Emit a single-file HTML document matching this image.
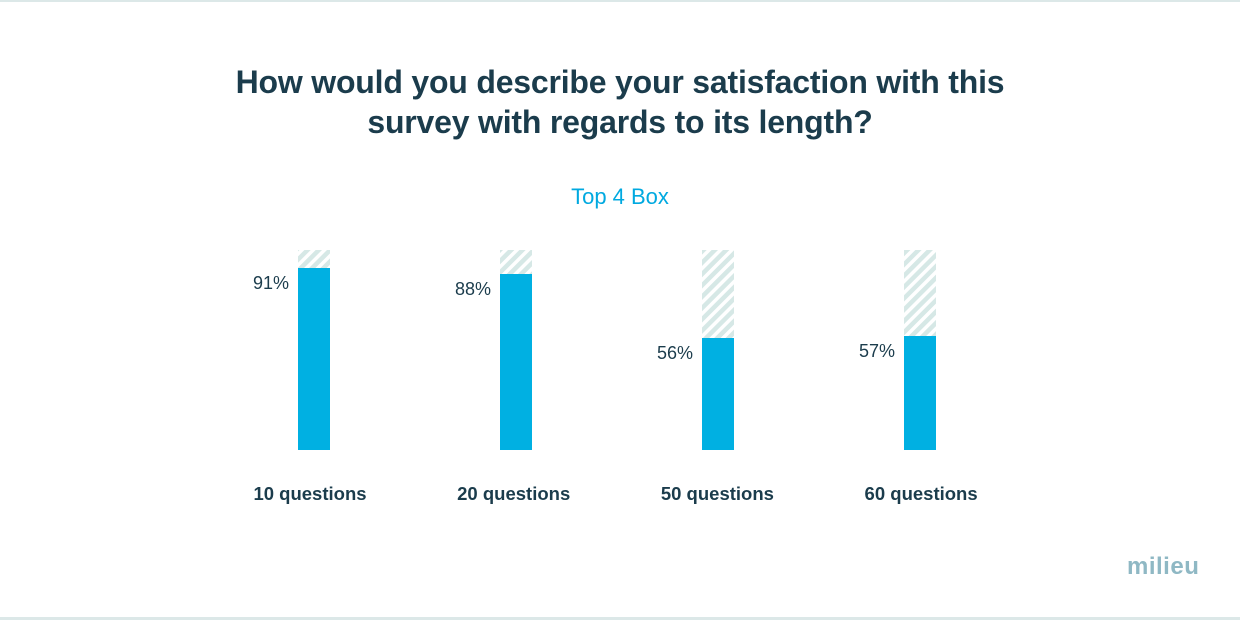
<!DOCTYPE html>
<html><head><meta charset="utf-8">
<style>
html,body{margin:0;padding:0;background:#fff;}
body{width:1240px;height:620px;position:relative;overflow:hidden;font-family:"Liberation Sans",sans-serif;}
</style></head>
<body>
<div style="position:absolute;left:0;top:0;width:1240px;height:2px;background:#dce8e8"></div>
<div style="position:absolute;left:0;top:617px;width:1240px;height:3px;background:#dce8e8"></div>
<div style="position:absolute;left:0;top:62px;width:1240px;text-align:center;font-size:32px;font-weight:bold;color:#1b3c4c;line-height:40px;letter-spacing:-0.2px">How would you describe your satisfaction with this<br>survey with regards to its length?</div>
<div style="position:absolute;left:0;top:184px;width:1240px;text-align:center;font-size:22px;color:#00a9e0">Top 4 Box</div>
<div style="position:absolute;left:1127px;top:553px;font-size:24px;font-weight:bold;color:#8fb8c4;letter-spacing:0.5px">milieu</div>
<svg id="chart" width="1240" height="620" style="position:absolute;left:0;top:0">
<defs>
<pattern id="hatch" patternUnits="userSpaceOnUse" width="8" height="8" patternTransform="rotate(45)">
<rect width="8" height="8" fill="#ffffff"/>
<rect width="4.5" height="8" fill="#d6e8e6"/>
</pattern>
</defs>
</svg>
<script>
const categories = ["10 questions","20 questions","50 questions","60 questions"];
const values = [91, 88, 56, 57];
const valueLabels = ["91%","88%","56%","57%"];

const svg = document.getElementById('chart');
const NS = 'http://www.w3.org/2000/svg';
const baseY = 450, plotH = 200, barW = 32;
function x(i){ return 314 + i * 202; }
function lx(i){ return 310 + i * 203.7; }
function y(v){ return baseY - v / 100 * plotH; }
categories.forEach((c, i) => {
  const cx = x(i);
  const bg = document.createElementNS(NS, 'rect');
  bg.setAttribute('x', cx - barW/2); bg.setAttribute('y', y(100));
  bg.setAttribute('width', barW); bg.setAttribute('height', plotH);
  bg.setAttribute('fill', 'url(#hatch)');
  
  
  svg.appendChild(bg);
  const b = document.createElementNS(NS, 'rect');
  b.setAttribute('x', cx - barW/2); b.setAttribute('y', y(values[i]));
  b.setAttribute('width', barW); b.setAttribute('height', baseY - y(values[i]));
  b.setAttribute('fill', '#00b0e2');
  
  
  svg.appendChild(b);
  const t = document.createElementNS(NS, 'text');
  t.setAttribute('x', cx - barW/2 - 9); t.setAttribute('y', y(values[i]) + 21);
  t.setAttribute('text-anchor', 'end');
  t.setAttribute('font-size', '18'); t.setAttribute('fill', '#1b3c4c');
  t.setAttribute('font-family', 'Liberation Sans, sans-serif');
  t.textContent = valueLabels[i];
  
  
  svg.appendChild(t);
  const l = document.createElementNS(NS, 'text');
  l.setAttribute('x', lx(i)); l.setAttribute('y', 500);
  l.setAttribute('text-anchor', 'middle');
  l.setAttribute('font-size', '18.5'); l.setAttribute('font-weight', 'bold'); l.setAttribute('fill', '#1b3c4c');
  l.setAttribute('font-family', 'Liberation Sans, sans-serif');
  l.textContent = c;
  
  
  svg.appendChild(l);
});
</script>
</body></html>
